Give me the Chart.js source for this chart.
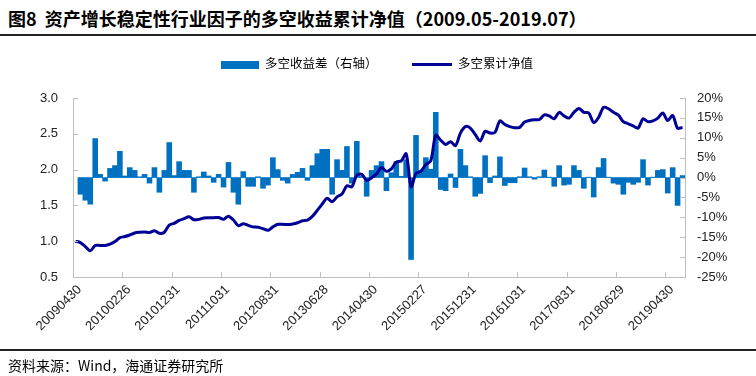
<html>

<head>
    <script src="https://cdn.jsdelivr.net/npm/chart.js"></script>
    <style>
        body { margin: 0; background: #fff; }
        #wrap { position: relative; width: 756px; height: 376px; overflow: hidden; }
        #myChart { position: absolute; left: 0; top: 0; }
        .title { position: absolute; left: 8px; top: 5px; font: bold 18px "Noto Sans CJK SC"; color: #000; white-space: nowrap; }
        .rule { position: absolute; left: 0; width: 756px; height: 2px; background: #222; }
        .legend { position: absolute; top: 53px; font: 12.5px "Noto Sans CJK SC"; color: #000; white-space: nowrap; }
        .source { position: absolute; left: 8px; top: 355px; font: 14px "Noto Sans CJK SC"; color: #000; white-space: nowrap; }
    </style>
</head>

<body>
<div id="wrap">
    <div class="title">图8&nbsp;&nbsp;资产增长稳定性行业因子的多空收益累计净值（2009.05-2019.07）</div>
    <div class="rule" style="top: 34px"></div>
    <canvas id="myChart" width="756" height="376"></canvas>
    <div class="legend" style="left: 221px">
        <span style="display:inline-block; width:38px; height:8px; background:#0070C0; vertical-align:middle; margin-right:6px"></span>多空收益差（右轴）
    </div>
    <div class="legend" style="left: 412px">
        <span style="display:inline-block; width:40px; height:3px; background:#000096; vertical-align:middle; margin-right:6px"></span>多空累计净值
    </div>
    <div class="rule" style="top: 349px; height: 1.5px"></div>
    <div class="source">资料来源：Wind，海通证券研究所</div>
</div>

<script>
    // x axis labels shown every 10 months (month-end dates)
    const tickLabels = ['20090430', '20100226', '20101231', '20111031', '20120831', '20130628',
        '20140430', '20150227', '20151231', '20161031', '20170831', '20180629', '20190430'];
    const tickEvery = 10;

    // monthly long-short return spread, % (right axis)
    const spread = [
        null, -4.2, -5.7, -6.7, 9.8, 0.8, -0.9, 2.3, 3.0, 6.6,
        0.4, 2.5, 1.8, 0.2, 0.8, -1.4, 2.5, -3.7, 1.8, 8.8,
        0.5, 4.0, 1.8, 1.8, -3.7, 0.2, 1.4, 0.4, -1.2, 0.8,
        -2.4, 3.8, -3.7, -6.7, 1.5, -2.2, -2.2, 0.2, -2.7, -1.9,
        5.0, 2.0, -0.7, -1.4, 0.8, 1.3, 2.3, -0.7, 3.0, 6.0,
        7.1, 7.1, -4.2, 4.5, 1.8, 7.8, -1.4, 9.1, 0.3, -4.7,
        1.8, 3.0, 4.0, -3.3, 1.2, 4.0, 0.3, 4.5, -20.6, 10.6,
        1.6, 5.0, 2.1, 16.4, -3.0, -3.3, 0.9, -2.5, 7.1, 3.0,
        0.2, -4.7, -4.0, 5.5, -1.3, 0.4, 5.2, -2.0, -1.3, -1.3,
        0.2, 2.4, 0.2, -0.4, 0.2, 1.9, 0.1, -2.2, 3.0, -1.9,
        -1.7, 3.0, 1.8, -2.7, 0.1, -4.9, 2.5, 4.8, 0.1, -1.4,
        -1.7, -4.2, -1.2, -1.7, -1.2, 4.5, -1.9, 0.1, 1.8, 2.0,
        -3.9, 2.5, -7.0, 0.5
    ];

    // cumulative long-short net value (left axis)
    const nav = [
        1.00, 0.98, 0.925, 0.865, 0.94, 0.94, 0.94, 0.96, 0.995, 1.05,
        1.065, 1.087, 1.115, 1.125, 1.13, 1.12, 1.147, 1.11, 1.125, 1.226,
        1.25, 1.29, 1.314, 1.342, 1.30, 1.305, 1.324, 1.328, 1.328, 1.33,
        1.305, 1.35, 1.296, 1.217, 1.245, 1.222, 1.20, 1.195, 1.175, 1.152,
        1.20, 1.236, 1.236, 1.232, 1.24, 1.258, 1.286, 1.296, 1.347, 1.43,
        1.52, 1.60, 1.55, 1.62, 1.66, 1.775, 1.76, 1.92, 1.935, 1.85,
        1.885, 1.94, 2.03, 1.975, 2.01, 2.105, 2.12, 2.22, 1.76, 1.945,
        1.98, 2.07, 2.125, 2.48, 2.41, 2.35, 2.39, 2.335, 2.51, 2.60,
        2.58, 2.49, 2.40, 2.535, 2.51, 2.52, 2.68, 2.63, 2.60, 2.585,
        2.59, 2.665, 2.685, 2.695, 2.70, 2.765, 2.75, 2.71, 2.80, 2.75,
        2.72, 2.80, 2.855, 2.80, 2.79, 2.655, 2.73, 2.87, 2.85, 2.80,
        2.76, 2.67, 2.64, 2.61, 2.58, 2.71, 2.67, 2.68, 2.72, 2.79,
        2.685, 2.755, 2.578, 2.59
    ];

    const labels = nav.map((v, i) => i % tickEvery === 0 ? tickLabels[i / tickEvery] : '');
    const axisGray = '#bfbfbf';

    // small tick marks drawn on the inside of the axes, like the original
    const innerTicks = {
        id: 'innerTicks',
        afterDraw(chart) {
            const c = chart.ctx, a = chart.chartArea;
            const { x, y, y2 } = chart.scales;
            c.save();
            c.strokeStyle = axisGray;
            c.lineWidth = 1;
            c.beginPath();
            y.ticks.forEach(t => {
                const p = Math.round(y.getPixelForValue(t.value)) + 0.5;
                c.moveTo(a.left, p); c.lineTo(a.left + 5, p);
            });
            y2.ticks.forEach(t => {
                const p = Math.round(y2.getPixelForValue(t.value)) + 0.5;
                c.moveTo(a.right - 5, p); c.lineTo(a.right, p);
            });
            const half = (x.getPixelForValue(1) - x.getPixelForValue(0)) / 2;
            for (let i = tickEvery; i < nav.length; i += tickEvery) {
                const p = Math.round(x.getPixelForValue(i) - half) + 0.5;
                c.moveTo(p, a.bottom); c.lineTo(p, a.bottom - 5);
            }
            c.stroke();
            c.restore();
        }
    };

    const tickFont = { family: 'Liberation Sans', size: 13 };

    const ctx = document.getElementById('myChart').getContext('2d');
    const myChart = new Chart(ctx, {
        type: 'bar',
        data: {
            labels: labels,
            datasets: [
                {
                    type: 'line',
                    label: '多空累计净值',
                    data: nav,
                    yAxisID: 'y',
                    borderColor: '#000096',
                    borderWidth: 3,
                    pointRadius: 0,
                    tension: 0.3,
                    order: 0
                },
                {
                    type: 'bar',
                    label: '多空收益差（右轴）',
                    data: spread,
                    yAxisID: 'y2',
                    backgroundColor: '#0070C0',
                    barPercentage: 1.0,
                    categoryPercentage: 1.0,
                    order: 1
                }
            ]
        },
        options: {
            responsive: false,
            animation: false,
            devicePixelRatio: 1,
            layout: { padding: { top: 98, left: 0, right: 0, bottom: 0 } },
            plugins: {
                legend: { display: false },
                tooltip: { enabled: false }
            },
            scales: {
                x: {
                    offset: true,
                    grid: { display: false, drawTicks: false },
                    border: { display: true, color: axisGray },
                    ticks: {
                        autoSkip: false,
                        minRotation: 45,
                        maxRotation: 45,
                        padding: 5,
                        labelOffset: 4,
                        font: tickFont,
                        color: '#222'
                    },
                    afterFit: s => { s.height = 99; }
                },
                y: {
                    position: 'left',
                    min: 0.5,
                    max: 3.0,
                    grid: { display: false, drawTicks: false },
                    border: { display: true, color: axisGray },
                    ticks: {
                        stepSize: 0.5,
                        padding: 15,
                        font: tickFont,
                        color: '#222',
                        callback: v => v.toFixed(1)
                    },
                    afterFit: s => { s.width = 73; }
                },
                y2: {
                    position: 'right',
                    min: -25,
                    max: 20,
                    grid: { display: false, drawTicks: false },
                    border: { display: true, color: axisGray },
                    ticks: {
                        stepSize: 5,
                        padding: 12,
                        font: tickFont,
                        color: '#222',
                        callback: v => v + '%'
                    },
                    afterFit: s => { s.width = 71; }
                }
            }
        },
        plugins: [innerTicks]
    });
</script>

</body>

</html>
